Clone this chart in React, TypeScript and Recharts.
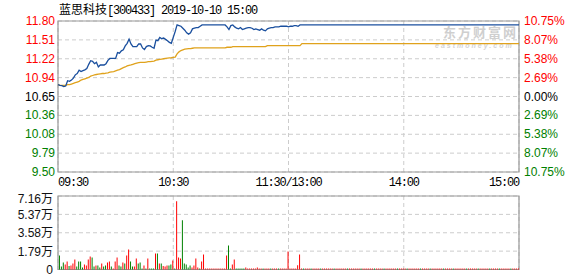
import React from 'react';
import {
  ComposedChart,
  Line,
  XAxis,
  YAxis,
  CartesianGrid,
  ReferenceArea,
  BarChart,
  Bar,
  Cell,
} from 'recharts';

// ---- Data ----
const titleName = '蓝思科技';
const titleRest = '[300433] 2019-10-10 15:00';

const timeTicks = [0, 60, 120, 180, 240];
const timeLabels = ['09:30', '10:30', '11:30/13:00', '14:00', '15:00'];

const priceTicks = [9.5, 9.7875, 10.075, 10.3625, 10.65, 10.9375, 11.225, 11.5125, 11.8];
const priceLabels = ['9.50', '9.79', '10.08', '10.36', '10.65', '10.94', '11.22', '11.51', '11.80'];
const pctLabels = ['10.75%', '8.07%', '5.38%', '2.69%', '0.00%', '2.69%', '5.38%', '8.07%', '10.75%'];
const priceSides = ['d', 'd', 'd', 'd', 'z', 'u', 'u', 'u', 'u'];

const volTicks = [0, 1.79, 3.58, 5.37, 7.16];
const volLabels = ['0', '1.79万', '3.58万', '5.37万', '7.16万'];

// minute-by-minute price (index 0 = 09:30, 120 = 11:30/13:00, 240 = 15:00)
const prices = [
  10.83, 10.82, 10.815, 10.8, 10.81, 10.89, 10.88, 10.9, 10.93, 10.98,
  11.0, 11.05, 11.03, 11.045, 11.055, 11.075, 11.14, 11.195, 11.185, 11.15,
  11.17, 11.1, 11.13, 11.13, 11.13, 11.15, 11.2, 11.23, 11.23, 11.23,
  11.23, 11.32, 11.31, 11.345, 11.36, 11.42, 11.46, 11.525, 11.45, 11.41,
  11.41, 11.41, 11.45, 11.45, 11.39, 11.365, 11.41, 11.425, 11.42, 11.4,
  11.385, 11.51, 11.5, 11.55, 11.53, 11.54, 11.52, 11.5, 11.475, 11.46,
  11.55, 11.64, 11.74, 11.73, 11.72, 11.69, 11.66, 11.62, 11.6, 11.62,
  11.68, 11.69, 11.7, 11.7, 11.72, 11.74, 11.74, 11.74, 11.74, 11.74,
  11.74, 11.74, 11.74, 11.74, 11.74, 11.74, 11.74, 11.74, 11.71, 11.67,
  11.73, 11.74, 11.71, 11.69, 11.68, 11.7, 11.67, 11.68, 11.69, 11.7,
  11.7, 11.69, 11.67, 11.68, 11.67, 11.66, 11.68, 11.66, 11.65, 11.68,
  11.69, 11.7, 11.7, 11.71, 11.71, 11.71, 11.72, 11.72, 11.72, 11.72,
  11.71, 11.72, 11.72, 11.73, 11.73, 11.72, 11.74, 11.74, 11.74, 11.74,
  11.74, 11.74, 11.74, 11.74, 11.74, 11.74, 11.74, 11.74, 11.74, 11.74,
  11.74, 11.74, 11.74, 11.74, 11.74, 11.74, 11.74, 11.74, 11.74, 11.74,
  11.74, 11.74, 11.74, 11.74, 11.74, 11.74, 11.74, 11.74, 11.74, 11.74,
  11.74, 11.74, 11.74, 11.74, 11.74, 11.74, 11.74, 11.74, 11.74, 11.74,
  11.74, 11.74, 11.74, 11.74, 11.74, 11.74, 11.74, 11.74, 11.74, 11.74,
  11.74, 11.74, 11.74, 11.74, 11.74, 11.74, 11.74, 11.74, 11.74, 11.74,
  11.74, 11.74, 11.74, 11.74, 11.74, 11.74, 11.74, 11.74, 11.74, 11.74,
  11.74, 11.74, 11.74, 11.74, 11.74, 11.74, 11.74, 11.74, 11.74, 11.74,
  11.74, 11.74, 11.74, 11.74, 11.74, 11.74, 11.74, 11.74, 11.74, 11.74,
  11.74, 11.74, 11.74, 11.74, 11.74, 11.74, 11.74, 11.74, 11.74, 11.74,
  11.74, 11.74, 11.74, 11.74, 11.74, 11.74, 11.74, 11.74, 11.74, 11.74,
  11.74,
];

// minute-by-minute average price
const avgPrices = [
  10.83, 10.82, 10.82, 10.82, 10.82, 10.83, 10.83, 10.84, 10.85, 10.86,
  10.87, 10.88, 10.9, 10.91, 10.92, 10.93, 10.94, 10.96, 10.97, 10.98,
  10.985, 10.99, 10.995, 11.0, 11.0, 11.005, 11.01, 11.02, 11.025, 11.03,
  11.04, 11.05, 11.06, 11.075, 11.09, 11.1, 11.115, 11.125, 11.13, 11.14,
  11.15, 11.16, 11.165, 11.17, 11.17, 11.17, 11.175, 11.18, 11.18, 11.185,
  11.19, 11.205, 11.21, 11.215, 11.22, 11.225, 11.23, 11.235, 11.238, 11.24,
  11.245, 11.25, 11.3, 11.33, 11.35, 11.36, 11.37, 11.375, 11.38, 11.38,
  11.385, 11.39, 11.39, 11.39, 11.39, 11.39, 11.39, 11.39, 11.39, 11.39,
  11.39, 11.39, 11.39, 11.39, 11.39, 11.39, 11.39, 11.39, 11.4, 11.4,
  11.4, 11.41, 11.41, 11.41, 11.41, 11.41, 11.41, 11.41, 11.41, 11.41,
  11.41, 11.41, 11.41, 11.41, 11.41, 11.41, 11.41, 11.41, 11.41, 11.425,
  11.425, 11.425, 11.425, 11.425, 11.425, 11.425, 11.425, 11.425, 11.425, 11.425,
  11.425, 11.425, 11.425, 11.425, 11.425, 11.425, 11.425, 11.455, 11.455, 11.455,
  11.455, 11.455, 11.455, 11.455, 11.455, 11.455, 11.455, 11.455, 11.455, 11.455,
  11.455, 11.455, 11.455, 11.455, 11.455, 11.455, 11.455, 11.455, 11.455, 11.455,
  11.455, 11.455, 11.455, 11.455, 11.455, 11.455, 11.455, 11.455, 11.455, 11.455,
  11.455, 11.455, 11.455, 11.455, 11.455, 11.455, 11.455, 11.455, 11.455, 11.455,
  11.455, 11.455, 11.455, 11.455, 11.455, 11.455, 11.455, 11.455, 11.455, 11.455,
  11.455, 11.455, 11.455, 11.455, 11.455, 11.455, 11.455, 11.455, 11.455, 11.455,
  11.455, 11.455, 11.455, 11.455, 11.455, 11.455, 11.455, 11.455, 11.455, 11.455,
  11.455, 11.455, 11.455, 11.455, 11.455, 11.455, 11.455, 11.455, 11.455, 11.455,
  11.455, 11.455, 11.455, 11.455, 11.455, 11.455, 11.455, 11.455, 11.455, 11.455,
  11.455, 11.455, 11.455, 11.455, 11.455, 11.455, 11.455, 11.455, 11.455, 11.455,
  11.455, 11.455, 11.455, 11.455, 11.455, 11.455, 11.455, 11.455, 11.455, 11.455,
  11.455,
];

// minute volume (万)
const volumes = [
  0, 1.37, 0.29, 0.68, 0.49, 0.78, 0.33, 0.39, 0.59, 0.98,
  0.29, 0.78, 0.78, 0.2, 0.49, 0.39, 0.98, 1.27, 1.17, 0.29,
  0.39, 0.39, 0.2, 0.59, 0.29, 0.39, 0.68, 0.78, 0.29, 0.1,
  0.78, 1.17, 0.39, 0.29, 0.68, 0.59, 1.37, 1.95, 0.78, 0.29,
  0.29, 1.07, 0.59, 0.68, 0.1, 0.39, 0.1, 1.07, 0.1, 0.1,
  0.1, 1.56, 1.56, 0.59, 0.59, 0.33, 0.29, 0.39, 0.39, 0.49,
  0.88, 0.1, 6.64, 1.17, 1.07, 4.79, 0.59, 0.49, 0.2, 0.39,
  0.2, 0.39, 1.07, 0.2, 0.1, 0.78, 1.47, 0.1, 0.1, 0.1,
  0.1, 0.1, 0.1, 0.1, 0.1, 0.1, 0.1, 0.1, 1.37, 2.35,
  0.1, 0.49, 0.98, 0.1, 0.1, 0.1, 0.1, 0.1, 0.2, 0.1,
  0.1, 0.1, 0.1, 0.1, 0.2, 0.1, 0.1, 0.1, 0.1, 0.1,
  0.1, 0.1, 0.1, 0.1, 0.1, 0.1, 0.1, 0.1, 0.1, 0.1,
  1.76, 0.1, 0.1, 0.1, 0.1, 0.42, 1.46, 0.1, 0.1, 0.1,
  0.1, 0.1, 0.1, 0.1, 0.1, 0.1, 0.1, 0.1, 0.1, 0.1,
  0.1, 0.1, 0.1, 0.1, 0.1, 0.1, 0.1, 0.1, 0.1, 0.1,
  0.1, 0.1, 0.1, 0.1, 0.1, 0.1, 0.1, 0.1, 0.1, 0.1,
  0.1, 0.1, 0.1, 0.1, 0.1, 0.1, 0.1, 0.1, 0.1, 0.1,
  0.1, 0.1, 0.1, 0.1, 0.1, 0.1, 0.1, 0.1, 0.1, 0.1,
  0.1, 0.1, 0.1, 0.1, 0.1, 0.1, 0.1, 0.1, 0.1, 0.1,
  0.1, 0.1, 0.1, 0.1, 0.1, 0.1, 0.1, 0.1, 0.1, 0.1,
  0.1, 0.1, 0.1, 0.1, 0.1, 0.1, 0.1, 0.1, 0.1, 0.1,
  0.1, 0.1, 0.1, 0.1, 0.1, 0.1, 0.1, 0.1, 0.1, 0.1,
  0.1, 0.1, 0.1, 0.1, 0.1, 0.1, 0.1, 0.1, 0.1, 0.1,
  0.1, 0.1, 0.1, 0.1, 0.1, 0.1, 0.1, 0.1, 0.1, 0.1,
  0.1,
];

// r = up (red), g = down (green)
const volDirections =
  'ggggrrgrrr' + 'ggggrrrrgg' + 'rggrggrrgr' + 'rrggrgrrgg' + 'rrgggrgrgg' +
  'grgrgrrrgg' + 'rgrrrggggg' + 'rrrrgrrrrr' + 'rrrrrrrrrg' + 'grrgggggrr' +
  'rrrrrrrgrr' + 'rgrrrgrrrr' + 'rrrrrrrrgr' + 'rrgrrrrgrr' + 'rrrrgrrrrr' +
  'rgrrrrrrgr' + 'rrrrrgrrrr' + 'grrrrrrgrr' + 'rrgrrrrrrg' + 'rrrrgrrrrr' +
  'rgrrrrgrrr' + 'rrrgrrrrrg' + 'rrrrrgrrrr' + 'grrrrrgrrr' + 'r';

// ---- Styles ----
const RED = '#ff0000';
const GREEN = '#008000';
const BLACK = '#000000';
const BLUE = '#1a4f9e';
const YELLOW = '#e0a21c';
const GRID = '#cccccc';
const BORDER = '#999999';
const NUM_FONT = '"Liberation Sans", Arial, "Noto Sans CJK SC", sans-serif';
const MONO_FONT = '"Liberation Mono", "DejaVu Sans Mono", monospace';

const priceData = prices.map((p, i) => ({ m: i, p, a: avgPrices[i] }));
const volData = volumes.map((v, i) => ({ m: i, v, d: volDirections[i] }));

const sideColor = (s: string) => (s === 'u' ? RED : s === 'd' ? GREEN : BLACK);

const LeftPriceTick = (props: any) => {
  const { x, y, payload } = props;
  const i = priceTicks.indexOf(payload.value);
  return (
    <text x={x} y={y} textAnchor="end" dominantBaseline="central" fontSize={12}
      fontFamily={NUM_FONT} fill={sideColor(priceSides[i])}>
      {priceLabels[i]}
    </text>
  );
};

const RightPctTick = (props: any) => {
  const { x, y, payload } = props;
  const i = priceTicks.indexOf(payload.value);
  return (
    <text x={x} y={y} textAnchor="start" dominantBaseline="central" fontSize={12}
      fontFamily={NUM_FONT} fill={sideColor(priceSides[i])}>
      {pctLabels[priceTicks.length - 1 - i]}
    </text>
  );
};

const TimeTick = (props: any) => {
  const { x, y, payload } = props;
  const i = timeTicks.indexOf(payload.value);
  const anchor = i === 0 ? 'start' : i === timeTicks.length - 1 ? 'end' : 'middle';
  return (
    <text x={x} y={y + 1} textAnchor={anchor} dominantBaseline="central" fontSize={12}
      fontFamily={MONO_FONT} letterSpacing={-1.2} fill={BLACK}>
      {timeLabels[i]}
    </text>
  );
};

const VolTick = (props: any) => {
  const { x, y, payload } = props;
  const i = volTicks.indexOf(payload.value);
  const shift = i === volTicks.length - 1 ? 3 : 0.5;
  return (
    <text x={x} y={y + shift} textAnchor="end" dominantBaseline="central" fontSize={12}
      fontFamily={NUM_FONT} fill="#111111">
      {volLabels[i]}
    </text>
  );
};

export default function App() {
  return (
    <div style={{ position: 'absolute', left: 0, top: 0, width: 578, height: 276, background: '#fff', overflow: 'hidden' }}>
      {/* watermark */}
      <div style={{ position: 'absolute', left: 443, top: 25, fontSize: 13, fontWeight: 700, color: '#cfcfcf',
        fontFamily: '"Noto Sans CJK SC", sans-serif', lineHeight: '13px', letterSpacing: 2 }}>
        东方财富网
      </div>
      <div style={{ position: 'absolute', left: 435, top: 42, fontSize: 7, fontWeight: 700, fontStyle: 'italic', color: '#d4d4d4',
        fontFamily: NUM_FONT, lineHeight: '7px', letterSpacing: 2 }}>
        eastmoney.com
      </div>
      {/* title */}
      <div style={{ position: 'absolute', left: 59, top: 1, fontSize: 12, lineHeight: '16px', color: '#000', whiteSpace: 'nowrap' }}>
        <span style={{ fontFamily: '"Noto Sans CJK SC", sans-serif' }}>{titleName}</span>
        <span style={{ fontFamily: MONO_FONT, letterSpacing: -1.2 }}>{titleRest}</span>
      </div>
      {/* price chart */}
      <div style={{ position: 'absolute', left: 0, top: 0 }}>
        <ComposedChart width={578} height={200} data={priceData} margin={{ top: 21, right: 0, left: 0, bottom: 8 }}>
          <CartesianGrid yAxisId="left" strokeDasharray="4 3" stroke={GRID} />
          <XAxis dataKey="m" type="number" domain={[0, 240]} ticks={timeTicks} interval={0}
            tickLine={false} axisLine={false} tickSize={0} tickMargin={10} height={20} tick={(p: any) => <TimeTick {...p} />} />
          <YAxis yAxisId="left" type="number" domain={[9.5, 11.8]} ticks={priceTicks} interval={0} width={58}
            tickLine={false} axisLine={false} tickSize={0} tickMargin={3} tick={(p: any) => <LeftPriceTick {...p} />} />
          <YAxis yAxisId="right" orientation="right" type="number" domain={[9.5, 11.8]} ticks={priceTicks} interval={0} width={59}
            tickLine={false} axisLine={false} tickSize={0} tickMargin={5} tick={(p: any) => <RightPctTick {...p} />} />
          <ReferenceArea yAxisId="left" x1={0} x2={240} y1={9.5} y2={11.8} fill="none" stroke={BORDER} strokeWidth={1.2} ifOverflow="visible" />
          <Line yAxisId="right" type="linear" dataKey="a" stroke={YELLOW} strokeWidth={1.3} dot={false} isAnimationActive={false} />
          <Line yAxisId="left" type="linear" dataKey="p" stroke={BLUE} strokeWidth={1.3} dot={false} isAnimationActive={false} />
        </ComposedChart>
      </div>
      {/* volume chart */}
      <div style={{ position: 'absolute', left: 0, top: 190 }}>
        <BarChart width={578} height={86} data={volData} margin={{ top: 6, right: 59, left: 0, bottom: 6.5 }}>
          <CartesianGrid strokeDasharray="4 3" stroke={GRID} />
          <XAxis dataKey="m" type="number" domain={[0, 240]} ticks={timeTicks} interval={0} hide />
          <YAxis type="number" domain={[0, 7.16]} ticks={volTicks} interval={0} width={58}
            tickLine={false} axisLine={false} tickSize={0} tickMargin={5} tick={(p: any) => <VolTick {...p} />} />
          <ReferenceArea x1={0} x2={240} y1={0} y2={7.16} fill="none" stroke={BORDER} strokeWidth={1.2} ifOverflow="visible" />
          <Bar dataKey="v" barSize={1} isAnimationActive={false}>
            {volData.map((d, i) => (
              <Cell key={i} fill={d.d === 'r' ? RED : GREEN} />
            ))}
          </Bar>
        </BarChart>
      </div>
    </div>
  );
}
